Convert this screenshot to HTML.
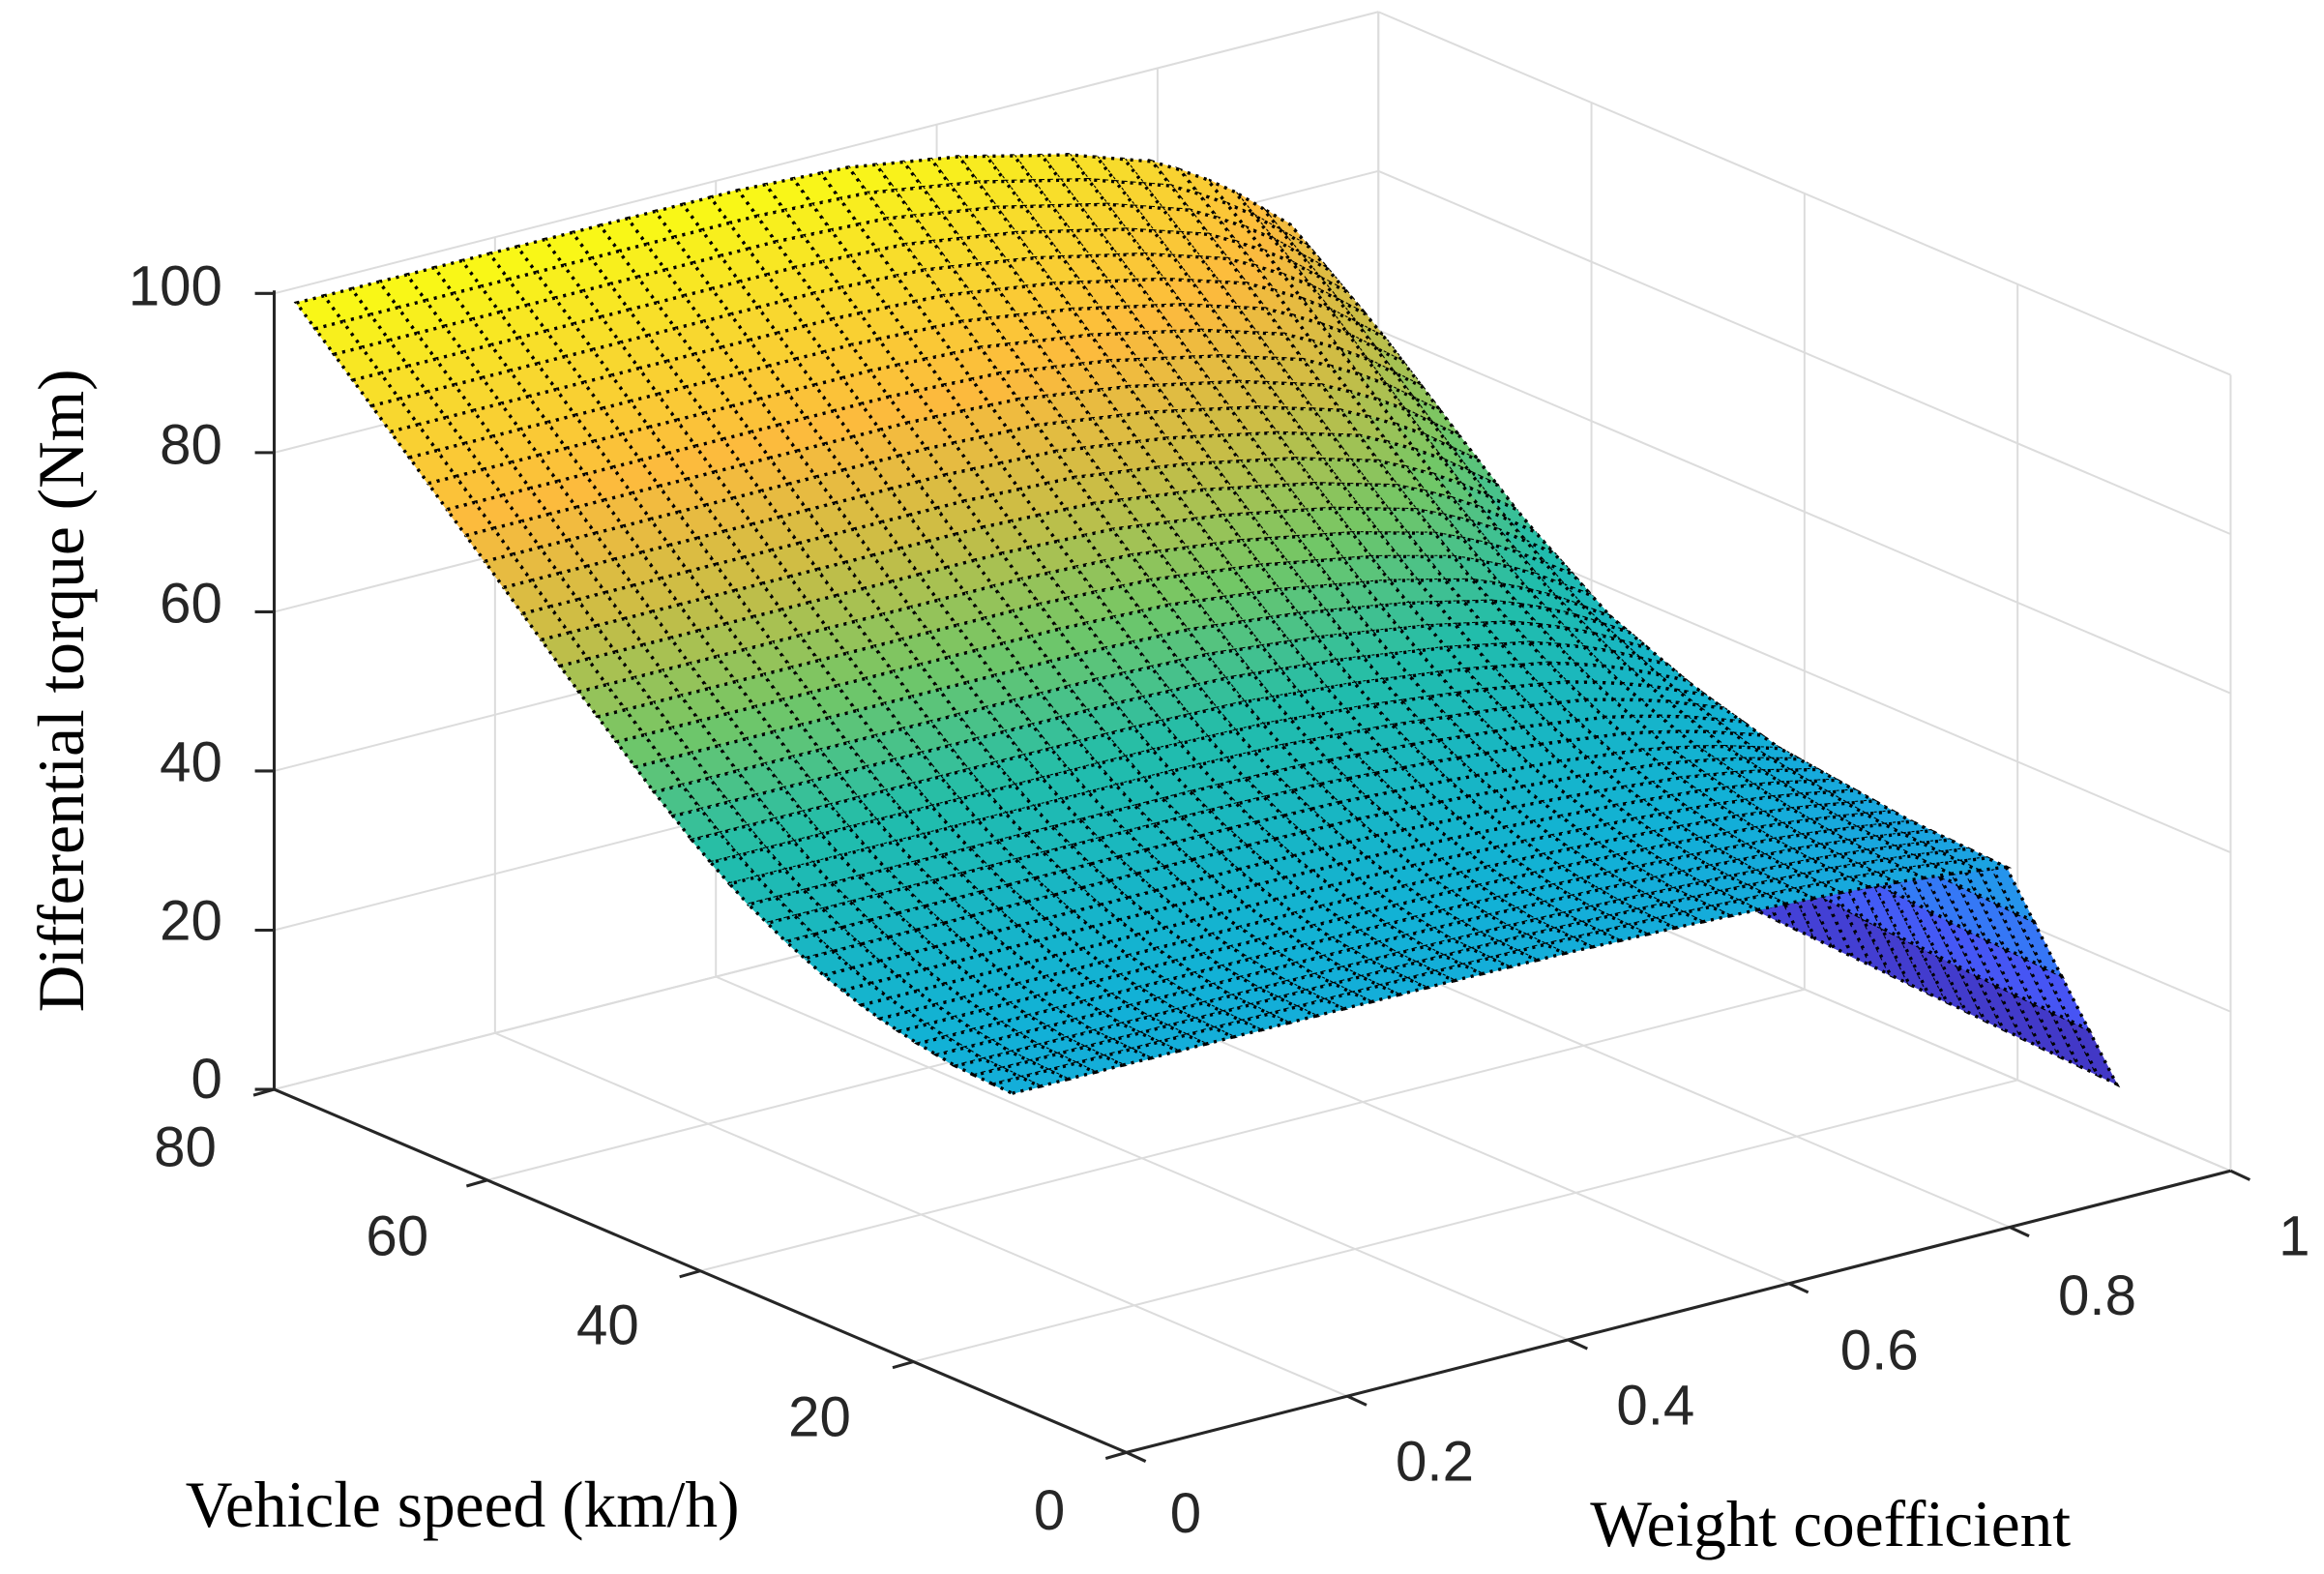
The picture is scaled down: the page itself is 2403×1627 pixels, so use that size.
<!DOCTYPE html>
<html><head><meta charset="utf-8"><style>
html,body{margin:0;padding:0;background:#fff;}
svg{display:block;}
.t{font-family:"Liberation Sans",Arial,sans-serif;font-size:38px;fill:#262626;}
.s{font-family:"Liberation Serif","Times New Roman",serif;font-size:44px;fill:#000;}
</style></head><body>
<svg id="c" xmlns="http://www.w3.org/2000/svg" width="2403" height="1627" viewBox="0 0 1568 1062" preserveAspectRatio="none">
<g id="grid" stroke="#dcdcdc" stroke-width="1.3" fill="none"></g>
<g id="surf"></g>
<g id="axes" stroke="#262626" stroke-width="2" fill="none"></g>
<g>
<text class="t" x="150" y="206" text-anchor="end">100</text>
<text class="t" x="150" y="313" text-anchor="end">80</text>
<text class="t" x="150" y="420" text-anchor="end">60</text>
<text class="t" x="150" y="527" text-anchor="end">40</text>
<text class="t" x="150" y="634" text-anchor="end">20</text>
<text class="t" x="150" y="741" text-anchor="end">0</text>
<text class="t" x="125" y="787" text-anchor="middle">80</text>
<text class="t" x="268" y="847" text-anchor="middle">60</text>
<text class="t" x="410" y="907" text-anchor="middle">40</text>
<text class="t" x="553" y="969" text-anchor="middle">20</text>
<text class="t" x="708" y="1032" text-anchor="middle">0</text>
<text class="t" x="800" y="1034" text-anchor="middle">0</text>
<text class="t" x="968" y="999" text-anchor="middle">0.2</text>
<text class="t" x="1117" y="961" text-anchor="middle">0.4</text>
<text class="t" x="1268" y="924" text-anchor="middle">0.6</text>
<text class="t" x="1415" y="887" text-anchor="middle">0.8</text>
<text class="t" x="1548" y="847" text-anchor="middle">1</text>
<text class="s" x="312" y="1030" text-anchor="middle">Vehicle speed (km/h)</text>
<text class="s" x="1235" y="1043" text-anchor="middle">Weight coefficient</text>
<text class="s" x="0" y="0" text-anchor="middle" transform="translate(56,466) rotate(-90)">Differential torque (Nm)</text>
</g>
</svg>
<script>
(function(){
var NS="http://www.w3.org/2000/svg";
function P(w,V,z){return [760+745*w-575*V, 980-190*w-245*V-5.37*z];}
function line(g,a,b){var l=document.createElementNS(NS,"line");l.setAttribute("x1",a[0]);l.setAttribute("y1",a[1]);l.setAttribute("x2",b[0]);l.setAttribute("y2",b[1]);g.appendChild(l);}
var G=document.getElementById("grid");
var i,k;
for(i=0;i<=5;i++){var w=i/5;line(G,P(w,1,0),P(w,1,100));line(G,P(w,0,0),P(w,1,0));}
for(i=0;i<=4;i++){var V=i/4;line(G,P(1,V,0),P(1,V,100));line(G,P(0,V,0),P(1,V,0));}
for(k=0;k<=5;k++){var z=k*20;line(G,P(0,1,z),P(1,1,z));line(G,P(1,1,z),P(1,0,z));}
var A=document.getElementById("axes");
line(A,[185,196],[185,735]);
for(k=0;k<=5;k++){var y=735-k*107.4;line(A,[172,y],[185,y]);}
line(A,P(0,0,0),P(0,1,0));
line(A,P(0,0,0),P(1,0,0));
for(i=0;i<=4;i++){var a=P(0,i/4,0);line(A,a,[a[0]-14,a[1]+4]);}
for(i=0;i<=5;i++){var b=P(i/5,0,0);line(A,b,[b[0]+13,b[1]+6]);}
function interp(tab,x){if(x<=tab[0][0])return tab[0][1];for(var j=0;j<tab.length-1;j++){if(x<=tab[j+1][0]){var t=(x-tab[j][0])/(tab[j+1][0]-tab[j][0]);return tab[j][1]+t*(tab[j+1][1]-tab[j][1]);}}return tab[tab.length-1][1];}
var FT=[[0.134,39],[0.2,39.4],[0.25,40.3],[0.3,41.6],[0.35,43.5],[0.4,46],[0.45,49],[0.5,52.8],[0.55,57.3],[0.65,67],[0.75,77.3],[0.85,87.5],[0.974,100]];
var T9=[[0.134,35.6],[0.25,36.3],[0.4,38.4],[0.5,41.5],[0.6,46],[0.7,53.5],[0.77,60],[0.87,69.5],[0.974,78]];
var RT=[[0,0],[0.4,0],[0.5,0.03],[0.6,0.13],[0.7,0.28],[0.78,0.45],[0.84,0.68],[0.9,1]];
function Z(w,V){var fv=interp(FT,V),z9=interp(T9,V);
 if(w<=0.9){return fv-(fv-z9)*interp(RT,w);}
 var ze=4+6*V;var t=(w-0.9)/0.1;return z9+(ze-z9)*t;}
var cm=[[0,.2422,.1504,.6603],[.125,.2810,.3228,.9579],[.25,.1786,.5289,.9682],[.375,.0689,.6948,.8394],[.5,.13,.74,.67],[.6,.45,.78,.40],[.7,.80,.74,.27],[.8,.99,.73,.24],[.9,.97,.85,.18],[1,.9769,.9839,.0805]];
function col(v){v=Math.max(0,Math.min(1,v));for(var j=0;j<cm.length-1;j++){if(v<=cm[j+1][0]){var t=(v-cm[j][0])/(cm[j+1][0]-cm[j][0]);var r=cm[j][1]+t*(cm[j+1][1]-cm[j][1]),g=cm[j][2]+t*(cm[j+1][2]-cm[j][2]),b=cm[j][3]+t*(cm[j+1][3]-cm[j][3]);return "rgb("+Math.round(r*255)+","+Math.round(g*255)+","+Math.round(b*255)+")";}}return "#fff";}
var NW=40,NV=38,V0=0.134,V1=0.974,quads=[];
for(i=0;i<NW;i++)for(k=0;k<NV;k++){
 var w1=i/NW,w2=(i+1)/NW,v1=V0+(V1-V0)*k/NV,v2=V0+(V1-V0)*(k+1)/NV;
 var zs=[Z(w1,v1),Z(w2,v1),Z(w2,v2),Z(w1,v2)];
 var pts=[P(w1,v1,zs[0]),P(w2,v1,zs[1]),P(w2,v2,zs[2]),P(w1,v2,zs[3])];
 var zm=(zs[0]+zs[1]+zs[2]+zs[3])/4;
 quads.push({d:(w1+w2)/2+(v1+v2)/2,p:pts,c:col((zm-4)/96)});
}
quads.sort(function(a,b){return b.d-a.d;});
var S=document.getElementById("surf"),html="";
quads.forEach(function(q){var s=q.p.map(function(p){return p[0].toFixed(1)+","+p[1].toFixed(1);}).join(" ");
 html+='<polygon points="'+s+'" fill="'+q.c+'" stroke="'+q.c+'" stroke-width="0.8"/>';
 html+='<polygon points="'+s+'" fill="none" stroke="#000" stroke-width="2.2" stroke-dasharray="2 3.8"/>';});
S.innerHTML=html;
})();
</script>
</body></html>
